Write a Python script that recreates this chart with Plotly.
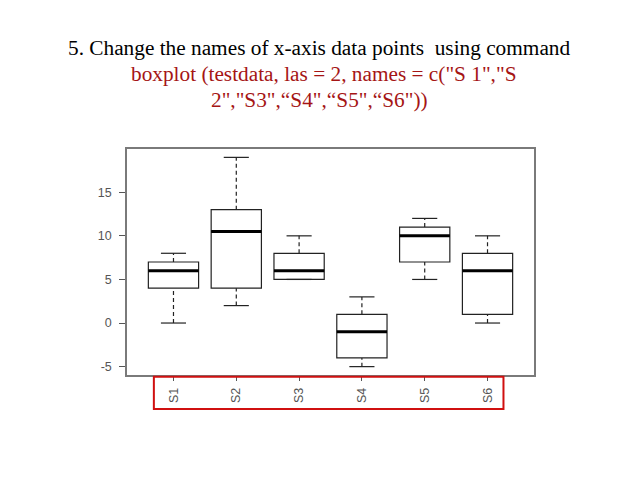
import plotly.graph_objects as go

# five-number summaries
names = ["S1", "S2", "S3", "S4", "S5", "S6"]
low = [0, 2, 5, -5, 5, 0]
q1 = [4, 4, 5, -4, 7, 1]
median = [6, 10.5, 6, -1, 10, 6]
q3 = [7, 13, 8, 1, 11, 8]
high = [8, 19, 10, 3, 12, 10]

y_ticks = [-5, 0, 5, 10, 15]
y_labels = ["-5", "0", "5", "10", "15"]

title_lines = [
    "5. Change the names of x-axis data points  using command",
    "boxplot (testdata, las = 2, names = c(\"S 1\",\"S",
    "2\",\"S3\",\u201cS4\",\u201cS5\",\u201cS6\"))",
]

pos = list(range(1, len(names) + 1))
half_box = 0.4
half_cap = 0.2

fig = go.Figure()

# box bodies only (whiskers drawn separately so they can be dashed)
fig.add_trace(go.Box(x=pos, q1=q1, median=median, q3=q3,
                     lowerfence=q1, upperfence=q3,
                     width=2 * half_box, fillcolor="white",
                     line=dict(color="#222222", width=1.2),
                     hoverinfo="skip", showlegend=False))

wx, wy, cx, cy, mx, my = [], [], [], [], [], []
for p, lo, a, m, b, hi in zip(pos, low, q1, median, q3, high):
    # dashed whiskers
    wx += [p, p, None, p, p, None]
    wy += [lo, a, None, b, hi, None]
    # caps
    cx += [p - half_cap, p + half_cap, None, p - half_cap, p + half_cap, None]
    cy += [lo, lo, None, hi, hi, None]
    # thick median
    mx += [p - half_box, p + half_box, None]
    my += [m, m, None]

fig.add_trace(go.Scatter(x=wx, y=wy, mode="lines", showlegend=False,
                         line=dict(color="#222222", width=1.2, dash="4px,3px")))
fig.add_trace(go.Scatter(x=cx, y=cy, mode="lines", showlegend=False,
                         line=dict(color="#222222", width=1.2)))
fig.add_trace(go.Scatter(x=mx, y=my, mode="lines", showlegend=False,
                         line=dict(color="black", width=3)))

# slide heading, one annotation per line
for text, xp, yp, col in zip(title_lines, [0.472, 0.4816, 0.474],
                             [1.4447, 1.334, 1.219], ["black", "#a51515", "#a51515"]):
    fig.add_annotation(text=text, xref="paper", yref="paper", x=xp, y=yp,
                       xanchor="center", yanchor="middle", showarrow=False,
                       font=dict(family="Liberation Serif", size=21.3, color=col))

# red highlight around the x tick labels
fig.add_shape(type="rect", xref="paper", yref="paper",
              x0=0.066, x1=0.925, y0=-0.008, y1=-0.150,
              line=dict(color="#d01010", width=2))

axis_font = dict(family="Liberation Sans", size=12.5, color="#555555")
fig.update_xaxes(range=[0.26, 6.74], tickvals=pos, ticktext=names, tickangle=-90,
                 showgrid=False, zeroline=False, showline=True, mirror=True,
                 linecolor="#7a7a7a", linewidth=1.5, ticks="outside", ticklen=4,
                 tickcolor="#555555", tickfont=axis_font, ticklabelstandoff=2)
fig.update_yaxes(range=[-5.96, 19.96], tickvals=y_ticks, ticktext=y_labels,
                 showgrid=False, zeroline=False, showline=True, mirror=True,
                 linecolor="#7a7a7a", linewidth=1.5, ticks="outside", ticklen=6,
                 tickcolor="#555555", tickfont=axis_font, ticklabelstandoff=5)

# page body has an 8px offset, so margins are shifted to match the reference
fig.update_layout(width=638, height=478, plot_bgcolor="white", paper_bgcolor="white",
                  margin=dict(l=119, r=112, t=141, b=111))

fig.write_html("out.html")
